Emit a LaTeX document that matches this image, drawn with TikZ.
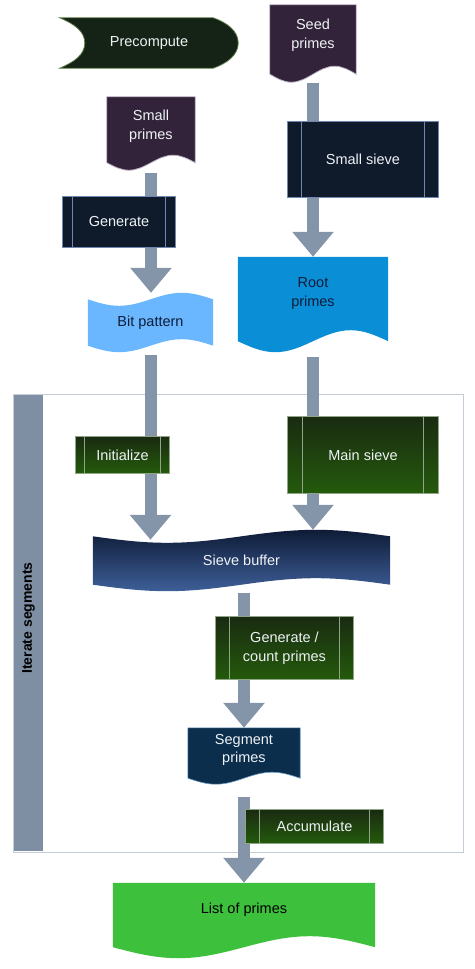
\documentclass[tikz,border=0pt]{standalone}
\usepackage{fontspec}
\setmainfont{Liberation Sans}
\usetikzlibrary{arrows.meta,calc}

% palette
\definecolor{flowgray}{HTML}{8494A9}
\definecolor{precfill}{HTML}{152316}
\definecolor{precedge}{HTML}{5B7A45}
\definecolor{purplefill}{HTML}{33233A}
\definecolor{purpleedge}{HTML}{B8B0C0}
\definecolor{navyfill}{HTML}{0F1A2B}
\definecolor{navyedge}{HTML}{7088B0}
\definecolor{bitfill}{HTML}{6AB7FF}
\definecolor{rootfill}{HTML}{0A8ED6}
\definecolor{greentop}{HTML}{1A2B11}
\definecolor{greenbot}{HTML}{245A0C}
\definecolor{greenedge}{HTML}{8FA588}
\definecolor{sbtop}{HTML}{0E1B36}
\definecolor{sbbot}{HTML}{3E5F98}
\definecolor{segfill}{HTML}{0B2E4C}
\definecolor{segedge}{HTML}{6C9CC8}
\definecolor{listfill}{HTML}{3DC13D}
\definecolor{bandfill}{HTML}{7E8EA3}
\definecolor{frameedge}{HTML}{C4CCD8}
\definecolor{lighttext}{HTML}{EEF2F5}
\definecolor{darktextc}{HTML}{0D1D3A}

\pgfdeclarelayer{frame}
\pgfdeclarelayer{flows}
\pgfdeclarelayer{shapes}
\pgfsetlayers{frame,flows,shapes,main}

\tikzset{
  lbl/.style={rectangle, inner sep=0pt, align=center, text=lighttext,
    font=\fontsize{14.5}{18.5}\selectfont},
  darktext/.style={text=darktextc},
  blacktext/.style={text=black},
  flow/.style={draw=flowgray, line width=12pt,
    -{Triangle[width=40pt,length=25pt]}},
  precbox/.style={fill=precfill, draw=precedge, line width=0.8pt},
  purplebox/.style={fill=purplefill, draw=purpleedge, line width=0.8pt},
  navybox/.style={fill=navyfill, draw=navyedge, line width=0.8pt},
  navyline/.style={draw=navyedge, line width=0.8pt},
  greenbox/.style={top color=greentop, bottom color=greenbot, draw=greenedge, line width=0.8pt},
  greenline/.style={draw=greenedge, line width=0.8pt},
  rootbox/.style={fill=rootfill},
  bitbox/.style={fill=bitfill},
  sbbox/.style={top color=sbtop, bottom color=sbbot},
  segbox/.style={fill=segfill, draw=segedge, line width=0.6pt},
  listbox/.style={fill=listfill},
  framebox/.style={draw=frameedge, line width=1pt},
  bandtext/.style={rotate=90, inner sep=0pt, text=black,
    font=\fontsize{14}{16}\selectfont\bfseries},
}

% text node spanning the box (x1,y1)-(x2,y2)
\newcommand\boxnode[7]{%
  \node[lbl,#1,minimum width={(#5-#3)*1pt},minimum height={(#6-#4)*1pt}]
    (#2) at ({(#3+#5)/2},{(#4+#6)/2}) {#7};}

% document: flat top, wavy bottom hanging below the node
\newcommand\docshape[3]{%
  \path[#3] let \p1=(#1.north west), \p2=(#1.south east), \n1={(\x2-\x1)/4} in
    (\x1,\y1) -- (\x2,\y1) -- (\x2,\y2-#2)
    sin (\x2-\n1*1pt,\y2) cos (\x2-2*\n1*1pt,\y2-#2)
    sin (\x1+\n1*1pt,\y2-2*#2) cos (\x1,\y2-#2) -- cycle;}

% punched tape: wavy top and bottom
\newcommand\tapeshape[3]{%
  \path[#3] let \p1=(#1.north west), \p2=(#1.south east), \n1={(\x2-\x1)/4} in
    (\x1,\y1-#2) sin (\x1+\n1*1pt,\y1-2*#2) cos (\x1+2*\n1*1pt,\y1-#2)
    sin (\x1+3*\n1*1pt,\y1) cos (\x2,\y1-#2)
    -- (\x2,\y2+#2) sin (\x2-\n1*1pt,\y2+2*#2) cos (\x2-2*\n1*1pt,\y2+#2)
    sin (\x1+\n1*1pt,\y2) cos (\x1,\y2+#2) -- cycle;}

% predefined process: rectangle with two inner bars
\newcommand\procshape[4]{%
  \path[#3] (#1.north west) rectangle (#1.south east);
  \draw[#4] ([xshift=#2]#1.north west) -- ([xshift=#2]#1.south west)
            ([xshift=-#2]#1.north east) -- ([xshift=-#2]#1.south east);}

% start marker: notched left side, rounded point on the right
\newcommand\precshape[2]{%
  \path[#2] let \p1=(#1.north west), \p2=(#1.south east), \p3=(#1.east) in
    (\x1,\y1) -- (\x2-25pt,\y1)
    .. controls (\x2-11pt,\y1-5pt) and (\x2,\y3+12pt) .. (\x2,\y3)
    .. controls (\x2,\y3-12pt) and (\x2-11pt,\y2+5pt) .. (\x2-25pt,\y2)
    -- (\x1,\y2)
    .. controls (\x1+14pt,\y2+6pt) and (\x1+25pt,\y3-12pt) .. (\x1+25pt,\y3)
    .. controls (\x1+25pt,\y3+12pt) and (\x1+14pt,\y1-6pt) .. (\x1,\y1) -- cycle;}

\begin{document}
\begin{tikzpicture}[x=1pt,y=-1pt]
\useasboundingbox (0,0) rectangle (474,969);

% labelled nodes
\boxnode{}{prec}{60}{18}{238}{68}{Precompute}
\boxnode{}{seed}{270}{5}{356}{66}{Seed\\primes}
\boxnode{}{smallp}{107}{97}{195}{155}{Small\\primes}
\boxnode{}{gen}{63}{197}{175}{247}{Generate}
\boxnode{}{ssieve}{288}{122}{438}{197}{Small sieve}
\boxnode{darktext}{rootp}{238}{257}{388}{330}{Root\\primes}
\boxnode{darktext}{bitp}{88}{293}{213}{352}{Bit pattern}
\boxnode{}{init}{76}{437}{169}{473}{Initialize}
\boxnode{}{msieve}{288}{417}{438}{493}{Main sieve}
\boxnode{}{sb}{93}{530}{390}{591}{Sieve buffer}
\boxnode{}{gcount}{216}{617}{353}{679}{Generate /\\count primes}
\boxnode{}{segp}{188}{728}{300}{772}{Segment\\primes}
\boxnode{}{acc}{246}{810}{383}{843}{Accumulate}
\boxnode{blacktext}{lst}{113}{883}{375}{936}{List of primes}

% loop frame with its side band
\begin{pgfonlayer}{frame}
  \draw[framebox] (13,394) rectangle (463,852);
  \fill[bandfill] (14,395) rectangle (43,851);
\end{pgfonlayer}
\node[bandtext] (iterlabel) at (28.5,618) {Iterate segments};

% data flow
\begin{pgfonlayer}{flows}
  \draw[flow, shorten <=18pt] (smallp.south) -- (smallp.south |- bitp.north);
  \draw[flow, shorten <=17pt] (seed.south) -- (seed.south |- rootp.north);
  \draw[flow, shorten <=3pt] (bitp.south) -- ($(bitp.south |- sb.north)+(0,10)$);
  \draw[flow, shorten <=27pt] (rootp.south) -- (rootp.south |- sb.north);
  \draw[flow, shorten <=2pt] (sb.south -| segp.north) -- (segp.north);
  \draw[flow, shorten <=25pt] (segp.south) -- (segp.south |- lst.north);
\end{pgfonlayer}

% outlines
\begin{pgfonlayer}{shapes}
  \precshape{prec}{precbox}
  \docshape{seed}{8pt}{purplebox}
  \docshape{smallp}{7.5pt}{purplebox}
  \procshape{gen}{10pt}{navybox}{navyline}
  \procshape{ssieve}{14pt}{navybox}{navyline}
  \docshape{rootp}{11pt}{rootbox}
  \tapeshape{bitp}{6.5pt}{bitbox}
  \procshape{init}{9pt}{greenbox}{greenline}
  \procshape{msieve}{15pt}{greenbox}{greenline}
  \tapeshape{sb}{6.5pt}{sbbox}
  \procshape{gcount}{14pt}{greenbox}{greenline}
  \docshape{segp}{6pt}{segbox}
  \procshape{acc}{14pt}{greenbox}{greenline}
  \docshape{lst}{11pt}{listbox}
\end{pgfonlayer}
\end{tikzpicture}
\end{document}
